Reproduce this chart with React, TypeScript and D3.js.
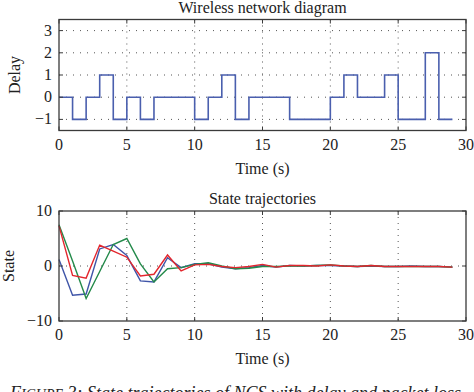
import React from "react";
import * as d3 from "d3";

// time index 0..29
const time = d3.range(0, 30);

// delay per step (step-after), last value repeated to close the final step at t=29
const delay = [0, -1, 0, 1, -1, 0, -1, 0, 0, 0, -1, 0, 1, -1, 0, 0, 0, -1, -1, -1, 0, 1, 0, 0, 1, -1, -1, 2, -1, -1];

const stateBlue = [1.2, -5.3, -5.1, 3.1, 3.9, 1.9, -2.7, -2.9, 1.5, -0.3, 0.4, 0.4, -0.2, -0.5, -0.3, 0.1, -0.2, 0.1, 0.0, 0.1, 0.1, 0.0, -0.1, 0.0, -0.1, -0.1, 0.0, -0.1, -0.1, -0.2];
const stateRed = [7.3, -1.7, -2.2, 3.8, 2.7, 1.6, -1.8, -1.5, 2.0, -0.9, 0.2, 0.3, -0.1, -0.3, -0.1, 0.3, -0.2, 0.1, 0.1, 0.0, 0.2, 0.0, -0.1, 0.1, -0.1, -0.1, -0.1, -0.1, -0.1, -0.2];
const stateGreen = [7.5, 0.9, -5.9, -1.0, 3.9, 5.0, 0.4, -2.9, -0.5, -0.3, 0.3, 0.6, 0.0, -0.5, -0.4, -0.1, -0.1, 0.0, 0.0, 0.1, 0.2, 0.0, -0.1, 0.1, -0.1, -0.1, -0.1, -0.1, -0.1, -0.2];

const xTicks = [0, 5, 10, 15, 20, 25, 30];
const delayTicks = [-1, 0, 1, 2, 3];
const stateTicks = [-10, 0, 10];

const FONT = "'Liberation Serif', 'DejaVu Serif', serif";
const FRAME = "#3a3a3a";
const GRID = "#555";

const left = 59;
const right = 466;

type PanelProps = {
  top: number;
  bottom: number;
  yDomain: [number, number];
  yTicks: number[];
  yGrid: number[];
  title: string;
  yLabel: string;
  yLabelX: number;
  children: (x: d3.ScaleLinear<number, number>, y: d3.ScaleLinear<number, number>) => React.ReactNode;
};

function Panel(props: PanelProps) {
  const { top, bottom, yDomain, yTicks, yGrid, title, yLabel, yLabelX } = props;
  const x = d3.scaleLinear().domain([0, 30]).range([left, right]);
  const y = d3.scaleLinear().domain(yDomain).range([bottom, top]);
  const mid = (top + bottom) / 2;
  return (
    <g fontFamily={FONT}>
      {xTicks.filter((t) => t > 0 && t < 30).map((t) => (
        <line key={"gx" + t} x1={x(t)} x2={x(t)} y1={top} y2={bottom} stroke={GRID} strokeWidth={1} strokeDasharray="1,5" />
      ))}
      {yGrid.map((t) => (
        <line key={"gy" + t} x1={left} x2={right} y1={y(t)} y2={y(t)} stroke={GRID} strokeWidth={1} strokeDasharray="1,6" />
      ))}
      {props.children(x, y)}
      <rect x={left} y={top} width={right - left} height={bottom - top} fill="none" stroke={FRAME} strokeWidth={1.3} />
      {xTicks.map((t) => (
        <g key={"tx" + t}>
          <line x1={x(t)} x2={x(t)} y1={bottom} y2={bottom - 4} stroke={FRAME} />
          <line x1={x(t)} x2={x(t)} y1={top} y2={top + 4} stroke={FRAME} />
          <text x={x(t)} y={bottom + 19} textAnchor="middle" fontSize={16} fill="#222">{t}</text>
        </g>
      ))}
      {yTicks.map((t) => (
        <g key={"ty" + t}>
          <line x1={left} x2={left + 4} y1={y(t)} y2={y(t)} stroke={FRAME} />
          <line x1={right} x2={right - 4} y1={y(t)} y2={y(t)} stroke={FRAME} />
          <text x={left - 7} y={y(t) + 5} textAnchor="end" fontSize={16} fill="#222">{t < 0 ? "\u2212" + Math.abs(t) : t}</text>
        </g>
      ))}
      <text x={(left + right) / 2} y={top - 7} textAnchor="middle" fontSize={16} fill="#222">{title}</text>
      <text x={(left + right) / 2} y={bottom + 43} textAnchor="middle" fontSize={16} fill="#222">Time (s)</text>
      <text transform={`translate(${yLabelX},${mid}) rotate(-90)`} textAnchor="middle" fontSize={16} fill="#222">{yLabel}</text>
    </g>
  );
}

export default function App() {
  const stepLine = (x: d3.ScaleLinear<number, number>, y: d3.ScaleLinear<number, number>) =>
    d3.line<number>().x((_, i) => x(time[i])).y((d) => y(d)).curve(d3.curveStepAfter);
  const plainLine = (x: d3.ScaleLinear<number, number>, y: d3.ScaleLinear<number, number>) =>
    d3.line<number>().x((_, i) => x(time[i])).y((d) => y(d));
  const series = [
    { data: stateBlue, color: "#3f55a8" },
    { data: stateGreen, color: "#238a4a" },
    { data: stateRed, color: "#e3262d" },
  ];
  return (
    <svg width={474} height={392} style={{ position: "absolute", left: 0, top: 0, fontFamily: FONT }}>
      <rect width={474} height={392} fill="#fff" />
      <Panel top={19.5} bottom={130.5} yDomain={[-1.5, 3.5]} yTicks={delayTicks} yGrid={delayTicks} title="Wireless network diagram" yLabel="Delay" yLabelX={20}>
        {(x, y) => (
          <path d={stepLine(x, y)(delay) || ""} fill="none" stroke="#4a5fae" strokeWidth={1.6} />
        )}
      </Panel>
      <Panel top={211} bottom={321} yDomain={[-10, 10]} yTicks={stateTicks} yGrid={[0]} title="State trajectories" yLabel="State" yLabelX={14}>
        {(x, y) => (
          <g>
            {series.map((s, i) => (
              <path key={i} d={plainLine(x, y)(s.data) || ""} fill="none" stroke={s.color} strokeWidth={1.4} />
            ))}
          </g>
        )}
      </Panel>
      <text x={10} y={399} fontSize={18} fontStyle="italic" fill="#222" fontFamily={FONT}>
        F<tspan fontSize={14}>IGURE</tspan> 3: State trajectories of NCS with delay and packet loss
      </text>
    </svg>
  );
}
